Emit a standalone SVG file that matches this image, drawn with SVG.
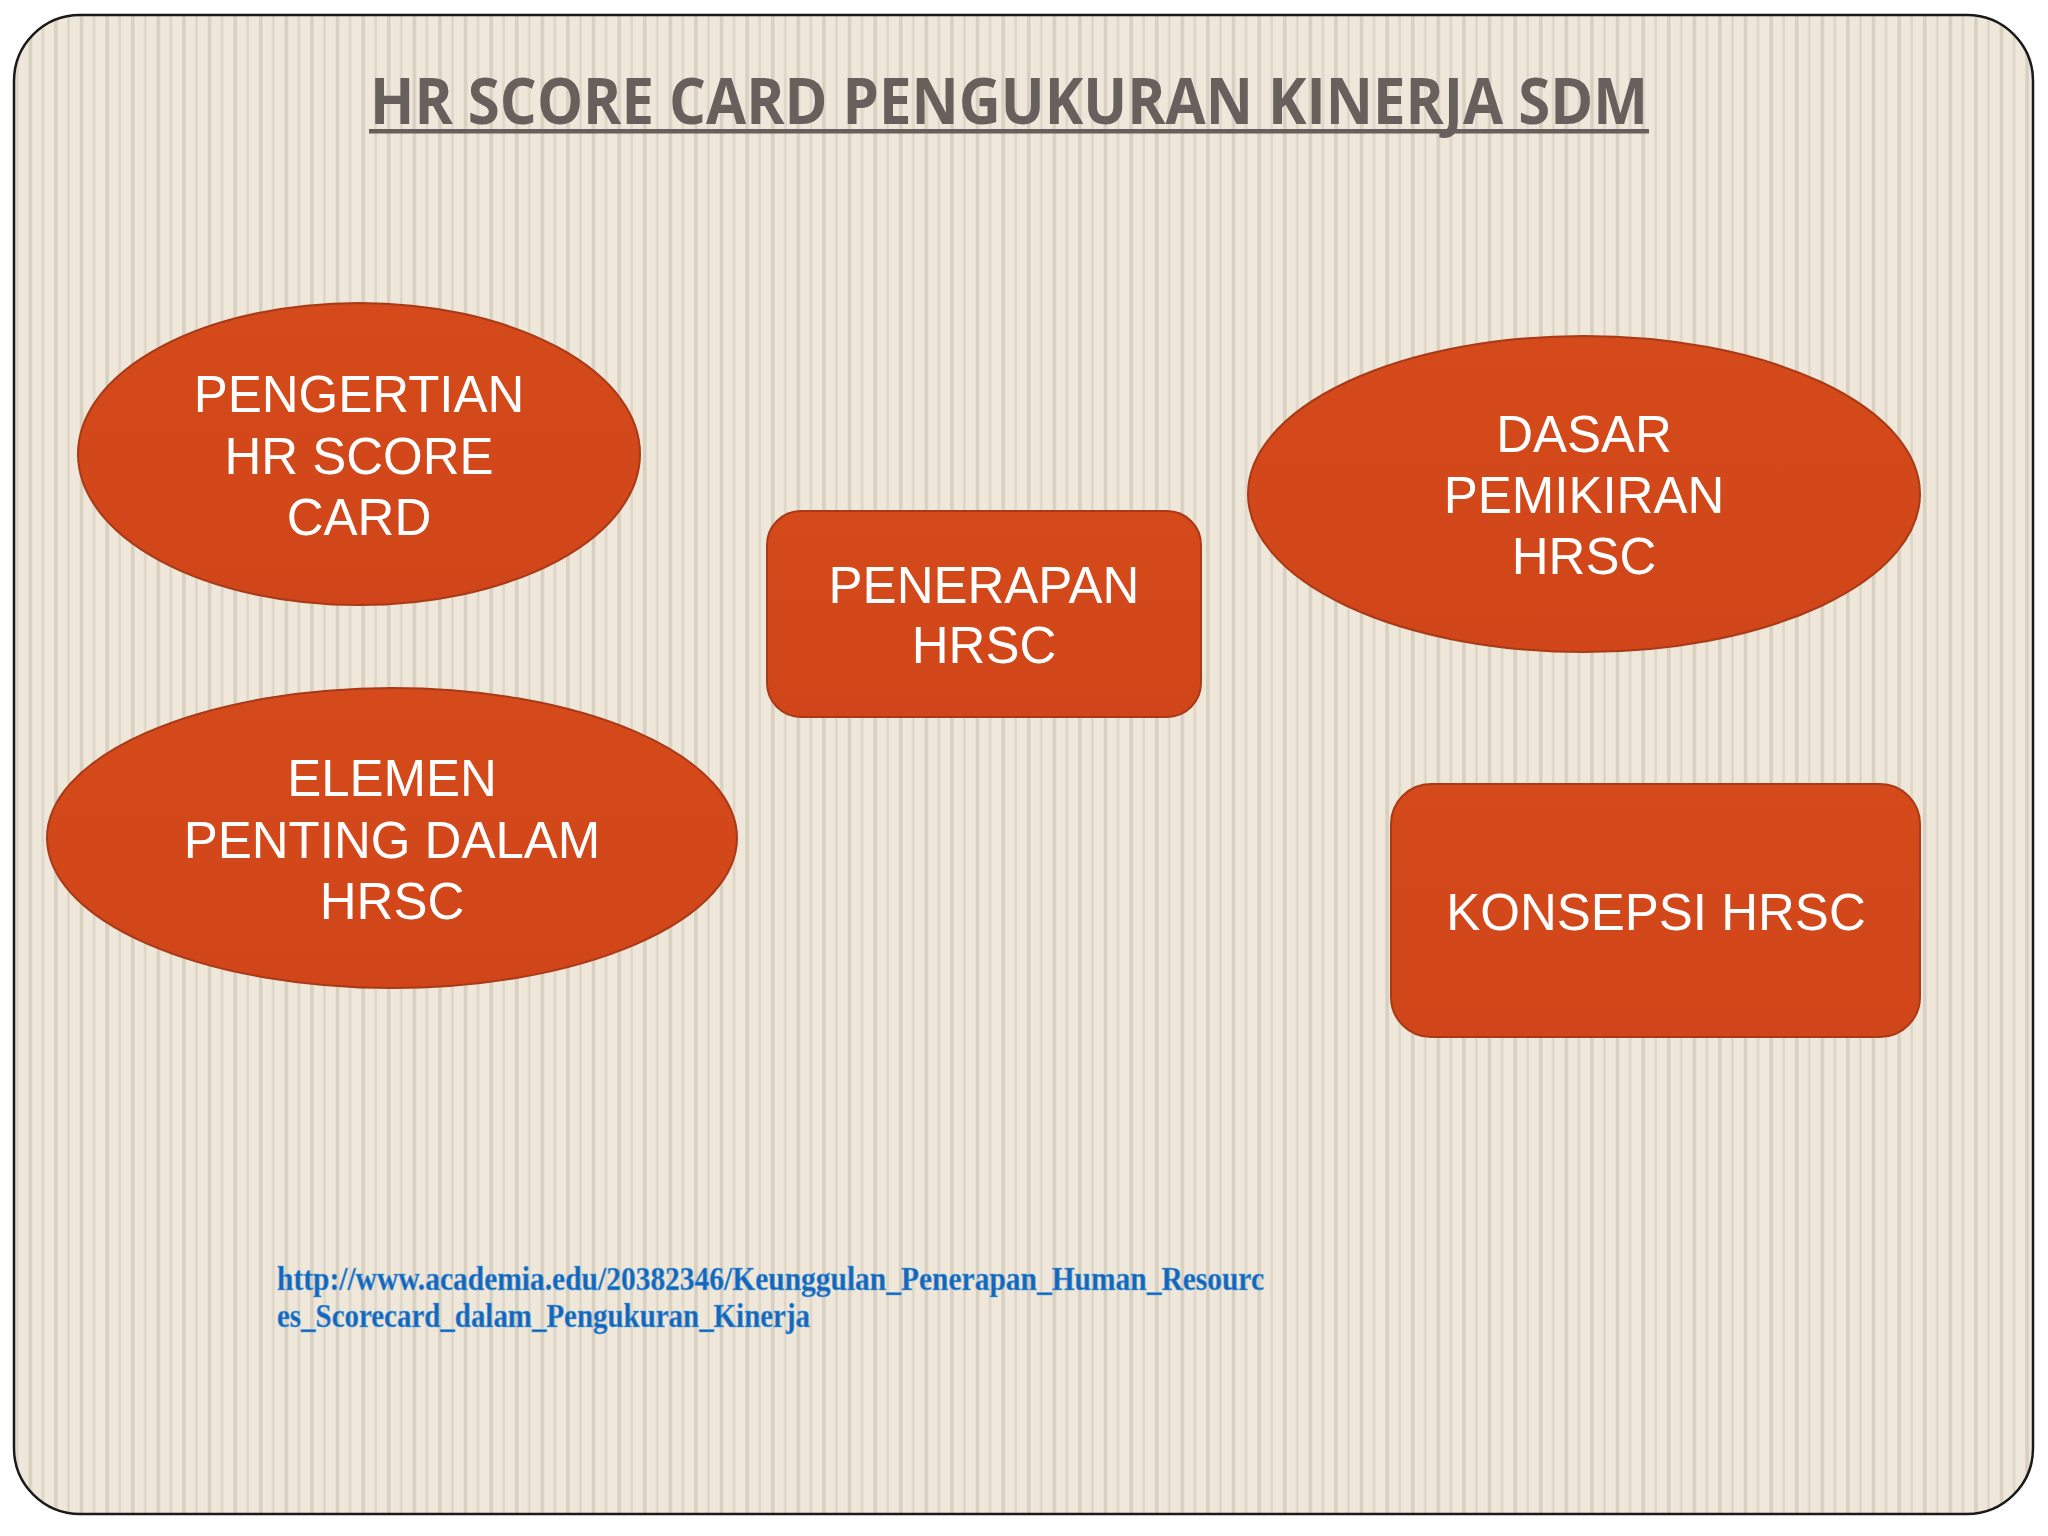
<svg xmlns="http://www.w3.org/2000/svg" width="2048" height="1536" viewBox="0 0 2048 1536">
  <defs>
    <pattern id="stripes" x="0" y="0" width="25.6" height="20" patternUnits="userSpaceOnUse">
      <rect x="0" y="0" width="25.6" height="20" fill="#efe8da"/>
      <rect x="3" y="0" width="3.5" height="20" fill="#d7cfc0"/>
      <rect x="16" y="0" width="2.5" height="20" fill="#ddd5c6"/>
    </pattern>
    <linearGradient id="nodeFill" x1="0" y1="0" x2="0" y2="1">
      <stop offset="0" stop-color="#d44a1a"/>
      <stop offset="1" stop-color="#d0461a"/>
    </linearGradient>
  </defs>
  <style>
    .node { fill: url(#nodeFill); stroke: #a83a17; stroke-width: 2; }
    .label { font-family: "Liberation Sans", Arial, sans-serif; font-size: 51px; fill: #ffffff; text-anchor: middle; }
    .title { font-family: "Open Sans", "Liberation Sans", sans-serif; font-weight: bold; font-size: 64px; fill: #67605d; }
    .url { font-family: "Liberation Serif", "Times New Roman", serif; font-weight: bold; font-size: 34px; fill: #1565b8; stroke: #5fa8e0; stroke-width: 0.6; }
  </style>
  <rect x="0" y="0" width="2048" height="1536" fill="#ffffff"/>
  <rect id="background" x="14" y="15" width="2019" height="1499" rx="66" ry="66" fill="url(#stripes)" stroke="#1a1a1a" stroke-width="2.5"/>

  <g id="title">
    <text class="title" x="370" y="124" textLength="1278" lengthAdjust="spacingAndGlyphs">HR SCORE CARD PENGUKURAN KINERJA SDM</text>
    <rect x="369" y="129" width="1280" height="4.5" fill="#67605d"/>
  </g>

  <g id="connectors"></g>

  <g id="node-pengertian">
    <ellipse class="node" cx="359" cy="454" rx="281" ry="151"/>
    <text class="label" x="359" y="412">PENGERTIAN</text>
    <text class="label" x="359" y="474">HR SCORE</text>
    <text class="label" x="359" y="535">CARD</text>
  </g>

  <g id="node-dasar">
    <ellipse class="node" cx="1584" cy="494" rx="336" ry="158"/>
    <text class="label" x="1584" y="452">DASAR</text>
    <text class="label" x="1584" y="513">PEMIKIRAN</text>
    <text class="label" x="1584" y="574">HRSC</text>
  </g>

  <g id="node-elemen">
    <ellipse class="node" cx="392" cy="838" rx="345" ry="150"/>
    <text class="label" x="392" y="796">ELEMEN</text>
    <text class="label" x="392" y="858">PENTING DALAM</text>
    <text class="label" x="392" y="919">HRSC</text>
  </g>

  <g id="node-penerapan">
    <rect class="node" x="767" y="511" width="434" height="206" rx="34" ry="34"/>
    <text class="label" x="984" y="603">PENERAPAN</text>
    <text class="label" x="984" y="663">HRSC</text>
  </g>

  <g id="node-konsepsi">
    <rect class="node" x="1391" y="784" width="529" height="253" rx="40" ry="40"/>
    <text class="label" x="1656" y="930">KONSEPSI HRSC</text>
  </g>

  <g id="reference">
    <text class="url" x="277" y="1290" textLength="987" lengthAdjust="spacingAndGlyphs">http://www.academia.edu/20382346/Keunggulan_Penerapan_Human_Resourc</text>
    <text class="url" x="277" y="1327" textLength="533" lengthAdjust="spacingAndGlyphs">es_Scorecard_dalam_Pengukuran_Kinerja</text>
  </g>
</svg>
